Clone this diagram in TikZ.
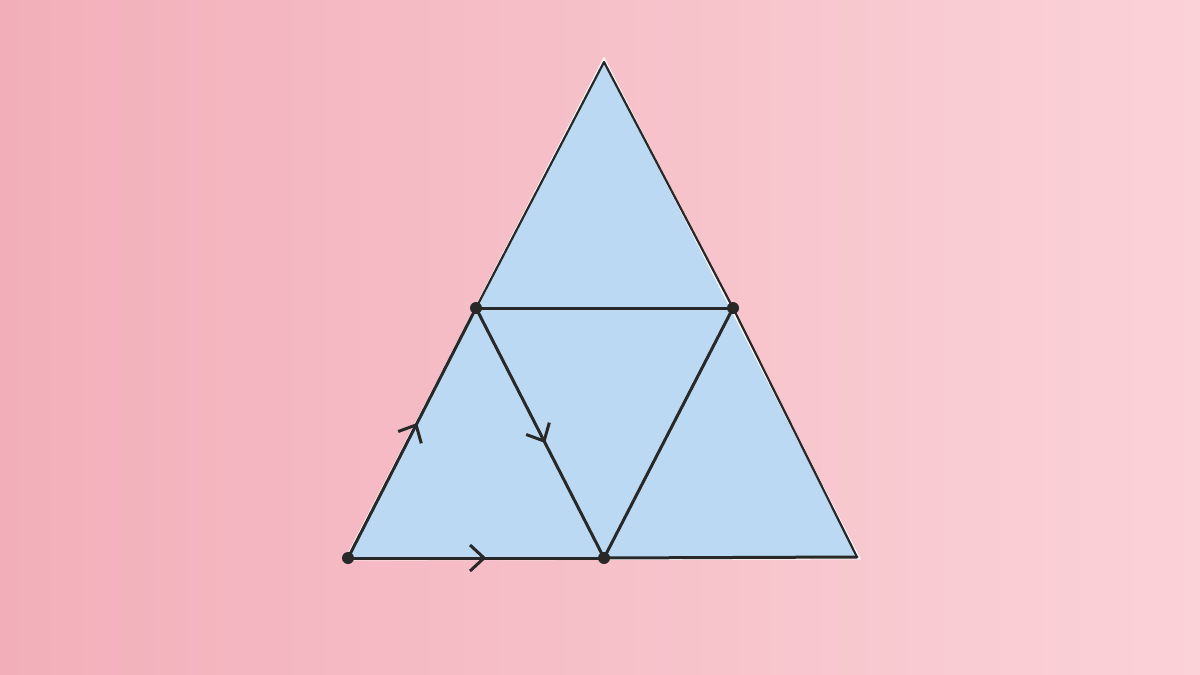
\documentclass[tikz,border=0pt]{standalone}
\usetikzlibrary{arrows.meta,decorations.markings}
\definecolor{bgL}{RGB}{242,175,186}
\definecolor{bgR}{RGB}{251,210,216}
\definecolor{triblue}{RGB}{187,217,242}
\definecolor{ink}{RGB}{40,40,40}
\tikzset{
  thinedge/.style={draw=ink, line width=1.1pt, line join=round},
  thickedge/.style={draw=ink, line width=1.5pt, line cap=round},
  dotpt/.style={circle, fill=ink, inner sep=0pt, minimum size=6pt},
  chev/.style={postaction={decorate}, decoration={markings,
     mark=at position 0.54 with {\arrow{Straight Barb[length=7pt,width=13pt,line width=1.5pt]}}}}
}
\begin{document}
\begin{tikzpicture}[x=0.5pt,y=-0.5pt]
\shade[left color=bgL, right color=bgR] (0,0) rectangle (1200,675);
\useasboundingbox (0,0) rectangle (1200,675);
\coordinate (A) at (348,558);
\coordinate (B) at (857,557);
\coordinate (C) at (604,62);
\coordinate (P) at (476,308);
\coordinate (Q) at (733,308);
\coordinate (R) at (604,558);
% white halo
\draw[white, line width=2.4pt, line join=miter] (A) -- (C) -- (B) -- cycle;
\fill[triblue] (A) -- (C) -- (B) -- cycle;
% thin outer edges
\draw[thinedge] (P) -- (C) -- (Q) -- (B);
% thick edges
\draw[thickedge] (R) -- (B);
\draw[thickedge] (P) -- (Q);
\draw[thickedge] (Q) -- (R);
\draw[thickedge, chev] (A) -- (P);
\draw[thickedge, chev] (P) -- (R);
\draw[thickedge, chev] (A) -- (R);
\node[dotpt] (dA) at (A) {};
\node[dotpt] (dP) at (P) {};
\node[dotpt] (dQ) at (Q) {};
\node[dotpt] (dR) at (R) {};
\end{tikzpicture}
\end{document}
